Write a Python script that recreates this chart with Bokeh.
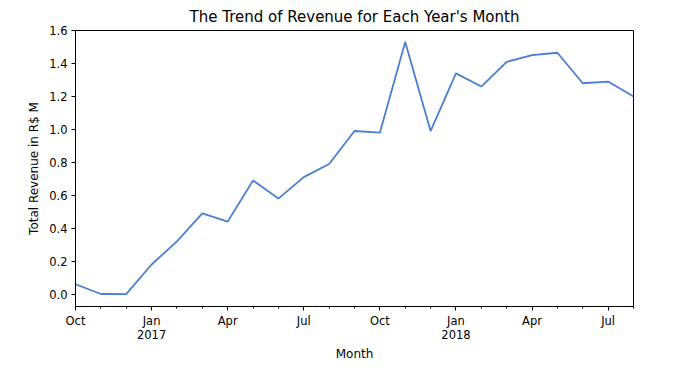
from bokeh.plotting import figure
from bokeh.models import FixedTicker, Range1d, NumeralTickFormatter
from bokeh.embed import file_html
from bokeh.resources import INLINE

months = ["2016-10", "2016-11", "2016-12", "2017-01", "2017-02", "2017-03", "2017-04",
          "2017-05", "2017-06", "2017-07", "2017-08", "2017-09", "2017-10", "2017-11",
          "2017-12", "2018-01", "2018-02", "2018-03", "2018-04", "2018-05", "2018-06",
          "2018-07", "2018-08"]
revenue = [0.06, 0.001, 0.0001, 0.18, 0.32, 0.49, 0.44, 0.69, 0.58, 0.71, 0.79, 0.99,
           0.98, 1.53, 0.99, 1.34, 1.26, 1.41, 1.45, 1.465, 1.28, 1.29, 1.20]
y_ticks = [0.0, 0.2, 0.4, 0.6, 0.8, 1.0, 1.2, 1.4, 1.6]
month_names = ["Jan", "Feb", "Mar", "Apr", "May", "Jun", "Jul", "Aug", "Sep", "Oct", "Nov", "Dec"]

x = list(range(len(months)))
major = []
overrides = {}
for i, m in enumerate(months):
    yr, mo = m.split("-")
    mo = int(mo)
    if mo in (1, 4, 7, 10):
        major.append(i)
        overrides[i] = month_names[mo - 1] + ("\n" + yr if mo == 1 else "")

p = figure(width=676, height=363, output_backend="svg", toolbar_location=None,
           title="The Trend of Revenue for Each Year's Month",
           x_range=Range1d(0, len(months) - 1), y_range=Range1d(-0.075, 1.6),
           min_border_left=75, min_border_right=43, min_border_top=29, min_border_bottom=57)

p.line(x, revenue, line_color="#4a7ecf", line_width=1.8)

p.title.align = "center"
p.title.text_font = "DejaVu Sans"
p.title.text_font_size = "15px"
p.title.text_font_style = "normal"
p.title.text_color = "black"

p.xgrid.visible = False
p.ygrid.visible = False
p.outline_line_color = "black"
p.outline_line_width = 1
p.outline_line_alpha = 1

p.xaxis.ticker = FixedTicker(ticks=major, minor_ticks=x)
p.xaxis.major_label_overrides = overrides
p.yaxis.ticker = FixedTicker(ticks=y_ticks)
p.yaxis.formatter = NumeralTickFormatter(format="0.0")

for ax in (p.xaxis[0], p.yaxis[0]):
    ax.axis_line_color = "black"
    ax.major_tick_line_color = "black"
    ax.minor_tick_line_color = "black"
    ax.major_tick_in = 0
    ax.major_tick_out = 4
    ax.minor_tick_in = 0
    ax.minor_tick_out = 2
    ax.major_label_text_font = "DejaVu Sans"
    ax.major_label_text_font_size = "11.5px"
    ax.major_label_text_color = "black"
    ax.major_label_text_line_height = 1.0
    ax.axis_label_text_font = "DejaVu Sans"
    ax.axis_label_text_font_size = "12px"
    ax.axis_label_text_font_style = "normal"
    ax.axis_label_text_color = "black"

p.yaxis.minor_tick_line_color = None
p.xaxis.axis_label = "Month"
p.yaxis.axis_label = "Total Revenue in R$ M"
p.xaxis.major_label_standoff = 3
p.yaxis.major_label_standoff = 4
p.xaxis.axis_label_standoff = 2
p.yaxis.axis_label_standoff = 5

open("out.html", "w").write(file_html(p, INLINE))
